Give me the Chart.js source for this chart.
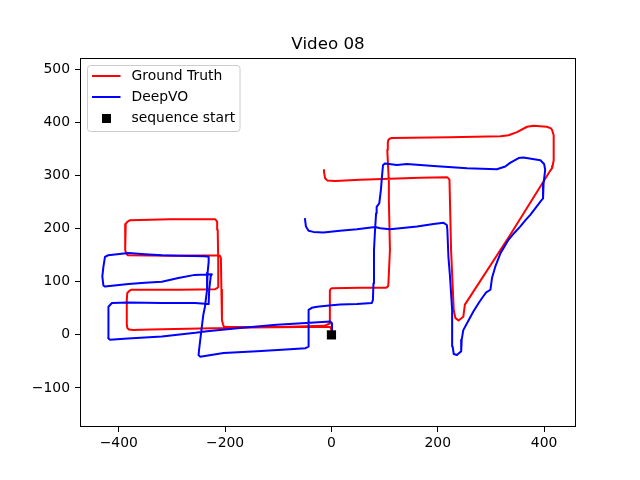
<!DOCTYPE html>
<html>
<head>
<meta charset="utf-8">
<script src="https://cdn.jsdelivr.net/npm/chart.js@4.4.1/dist/chart.umd.min.js"></script>
<style>
  html, body { margin: 0; padding: 0; background: #fff; }
  #wrap { width: 640px; height: 480px; }
</style>
</head>
<body>
<div id="wrap"><canvas id="chart" width="640" height="480"></canvas></div>
<script>
// Trajectory plot, values

const TITLE = 'Video 08';
const xTicks = [-400, -200, 0, 200, 400];
const yTicks = [-100, 0, 100, 200, 300, 400, 500];
const xRange = [-473, 460];
const yRange = [-173.5, 521.5];

// Ground truth path (rows of 10 points)
const gtX = [
  0, 0, -2, -59, -153, -198, -247, -341, -373, -381,
  -384, -385, -385, -384, -380, -377, -285, -219, -215, -213,
  -213, -214, -215, -217, -219, -304, -379, -384, -387, -388,
  -386, -383, -303, -213, -210, -208, -207, -206, -204, -202,
  -97, -14, -4, -3, -3, -2, 1, 54, 103, 106,
  107, 110, 108, 108, 105, 106, 107, 110, 114, 223,
  318, 333, 349, 368, 380, 405, 413, 415, 418, 418,
  416, 415, 412, 334, 251, 248, 239, 233, 230, 225,
  222, 220, 217, 167, 110, 54, 7, -8, -12, -14,
  -14];
const gtY = [
  0, 9, 15, 15, 14, 13, 12, 10, 9, 10,
  13, 20, 66, 79, 83, 85, 85, 86, 88, 90,
  141, 198, 213, 216, 218, 218, 216, 213, 209, 160,
  153, 150, 149, 150, 149, 145, 85, 28, 20, 15,
  15, 17, 21, 66, 83, 86, 88, 89, 89, 91,
  94, 160, 254, 288, 348, 362, 367, 370, 371, 372,
  374, 376, 382, 392, 394, 392, 389, 386, 376, 329,
  318, 314, 310, 185, 57, 34, 27, 32, 47, 160,
  292, 295, 297, 296, 294, 292, 290, 291, 295, 307,
  312];

// DeepVO estimate
const dvoX = [
  0, 1, -2, -40, -103, -172, -234, -256, -319, -383, -417, -420, -420, -419, -413,
  -382, -319, -257, -231, -230, -227, -225, -257, -288, -319, -351, -382, -426, -429, -431, -429,
  -426, -420, -382, -351, -319, -288, -238, -231, -231, -233, -234, -238, -241, -243, -246, -249,
  -250, -247, -203, -140, -78, -49, -43, -43, -43, -37, -27, -9, 16, 48, 76, 78, 79, 80, 82, 84,
  85, 90, 93, 95, 97, 101, 123, 142, 192, 255, 311, 327, 336, 352, 361, 393, 400, 402, 399, 398,
  393, 383, 374, 365, 355, 343, 333, 318, 308, 302, 299, 291, 283, 277, 267, 255, 248, 245, 244,
  236, 230, 228, 227, 223, 220, 218, 217, 211, 192, 161, 129, 110, 92, 82, 48, 16, -15, -34, -43,
  -48, -50];
const dvoY = [
  0, 22, 25, 23, 19, 13, 7, 4, -3, -7, -9, -6, 28, 53, 60,
  61, 60, 60, 58, 85, 111, 114, 113, 107, 100, 98, 96, 91, 93, 110, 128,
  147, 150, 154, 152, 150, 149, 148, 147, 137, 117, 85, 53, 38, 22, -3, -28,
  -38, -41, -34, -31, -27, -25, -22, 9, 47, 51, 53, 55, 57, 58, 60, 66, 97, 160, 198, 229,
  241, 248, 273, 298, 320, 323, 320, 322, 318, 314, 312, 317, 324, 333, 334, 329, 322, 311, 285, 257,
  251, 238, 226, 216, 204, 191, 179, 154, 128, 107, 85, 80, 69, 60, 44, 22, 9, -9, -31,
  -38, -36, -22, 47, 110, 147, 198, 207, 211, 209, 204, 201, 199, 201, 203, 199, 196, 193, 194, 196,
  204, 220];

const startX = [0];
const startY = [0];

const FONT = '"DejaVu Sans", "Liberation Sans", sans-serif';

function toPoints(xs, ys) {
  return xs.map((x, i) => ({ x: x, y: ys[i] }));
}

function fmtTick(v) {
  return v < 0 ? '\u2212' + Math.abs(v) : String(v);
}

// frame, title and the in-axes legend, drawn the way matplotlib places them
const decorPlugin = {
  id: 'decor',
  afterDraw(chart) {
    const ctx = chart.ctx;
    const a = chart.chartArea;
    ctx.save();

    ctx.strokeStyle = '#000';
    ctx.lineWidth = 1;
    ctx.strokeRect(Math.round(a.left) + 0.5, Math.round(a.top) + 0.5,
      Math.round(a.right - a.left) - 1, Math.round(a.bottom - a.top) - 1);

    ctx.fillStyle = '#000';
    ctx.font = '16.7px ' + FONT;
    ctx.textAlign = 'center';
    ctx.textBaseline = 'alphabetic';
    ctx.fillText(TITLE, (a.left + a.right) / 2, 49);

    // legend box
    const bx = 87.5, by = 65.5, bw = 152.5, bh = 66, r = 3;
    ctx.beginPath();
    ctx.moveTo(bx + r, by);
    ctx.lineTo(bx + bw - r, by);
    ctx.quadraticCurveTo(bx + bw, by, bx + bw, by + r);
    ctx.lineTo(bx + bw, by + bh - r);
    ctx.quadraticCurveTo(bx + bw, by + bh, bx + bw - r, by + bh);
    ctx.lineTo(bx + r, by + bh);
    ctx.quadraticCurveTo(bx, by + bh, bx, by + bh - r);
    ctx.lineTo(bx, by + r);
    ctx.quadraticCurveTo(bx, by, bx + r, by);
    ctx.closePath();
    ctx.fillStyle = 'rgba(255,255,255,0.8)';
    ctx.fill();
    ctx.strokeStyle = '#cccccc';
    ctx.stroke();

    const items = chart.data.datasets;
    const rows = [76, 97, 118.5];
    ctx.font = '13.9px ' + FONT;
    ctx.textAlign = 'left';
    ctx.textBaseline = 'middle';
    items.forEach((ds, i) => {
      const y = rows[i];
      if (ds.showLine) {
        ctx.strokeStyle = ds.borderColor;
        ctx.lineWidth = 2;
        ctx.beginPath();
        ctx.moveTo(92, y);
        ctx.lineTo(120.5, y);
        ctx.stroke();
      } else {
        ctx.fillStyle = ds.backgroundColor;
        ctx.fillRect(102, y - 4.5, 9, 9);
      }
      ctx.fillStyle = '#000';
      ctx.fillText(ds.label, 131.5, y);
    });

    ctx.restore();
  }
};

new Chart(document.getElementById('chart'), {
  type: 'scatter',
  data: {
    datasets: [
      {
        label: 'Ground Truth',
        data: toPoints(gtX, gtY),
        showLine: true,
        borderColor: '#ff0000',
        backgroundColor: '#ff0000',
        borderWidth: 2,
        borderJoinStyle: 'round',
        pointRadius: 0,
        tension: 0,
        order: 3
      },
      {
        label: 'DeepVO',
        data: toPoints(dvoX, dvoY),
        showLine: true,
        borderColor: '#0000ff',
        backgroundColor: '#0000ff',
        borderWidth: 2,
        borderJoinStyle: 'round',
        pointRadius: 0,
        tension: 0,
        order: 2
      },
      {
        label: 'sequence start',
        data: toPoints(startX, startY),
        showLine: false,
        backgroundColor: '#000000',
        borderColor: '#000000',
        pointStyle: 'rect',
        pointRadius: 6.5,
        borderWidth: 0,
        order: 1
      }
    ]
  },
  options: {
    responsive: false,
    animation: false,
    devicePixelRatio: 1,
    layout: { padding: { left: 0, top: 58, right: 64, bottom: 0 } },
    plugins: {
      legend: { display: false },
      title: { display: false },
      tooltip: { enabled: false }
    },
    scales: {
      x: {
        type: 'linear',
        min: xRange[0],
        max: xRange[1],
        afterBuildTicks: s => { s.ticks = xTicks.map(v => ({ value: v })); },
        afterFit: s => { s.height = 53; },
        border: { display: false },
        grid: { drawOnChartArea: false, tickLength: 5, tickColor: '#000', color: '#000' },
        ticks: {
          autoSkip: false,
          maxRotation: 0,
          padding: 3,
          color: '#000',
          font: { family: FONT, size: 13.9 },
          callback: fmtTick
        }
      },
      y: {
        type: 'linear',
        min: yRange[0],
        max: yRange[1],
        afterBuildTicks: s => { s.ticks = yTicks.map(v => ({ value: v })); },
        afterFit: s => { s.width = 80; },
        border: { display: false },
        grid: { drawOnChartArea: false, tickLength: 5, tickColor: '#000', color: '#000' },
        ticks: {
          autoSkip: false,
          padding: 5,
          color: '#000',
          font: { family: FONT, size: 13.9 },
          callback: fmtTick
        }
      }
    }
  },
  plugins: [decorPlugin]
});
</script>
</body>
</html>
